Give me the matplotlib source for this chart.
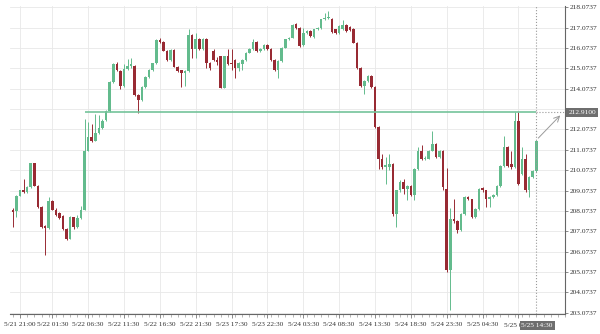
import matplotlib
matplotlib.use("Agg")
import matplotlib.pyplot as plt
import matplotlib.transforms as mtransforms
import numpy as np

# 30-min candles
opens = [
    208.13, 208.07, 208.83, 209.08, 209.00, 209.24, 210.41, 209.32, 208.26, 207.35,
    207.22, 208.58, 208.10, 207.95, 207.85, 207.20, 206.71, 207.77, 207.28, 207.73,
    208.13, 211.03, 211.72, 211.52, 211.88, 212.15, 212.55, 212.98, 214.40, 215.28,
    214.95, 214.20, 215.02, 215.20, 215.20, 213.75, 213.50, 214.18, 214.67, 215.00,
    215.32, 216.47, 216.35, 215.93, 215.49, 215.98, 215.16, 214.98, 214.85, 214.95,
    216.70, 216.00, 216.50, 216.00, 216.50, 215.31, 215.92, 215.50, 215.67, 214.12,
    215.67, 215.30, 215.50, 215.10, 215.30, 215.50, 215.84, 216.00, 216.36, 215.92,
    216.00, 216.20, 216.00, 215.50, 215.00, 215.45, 216.08, 216.49, 216.57, 217.27,
    217.06, 216.20, 216.81, 216.90, 216.60, 216.98, 217.06, 217.47, 217.55, 217.50,
    216.98, 216.81, 217.00, 217.22, 217.10, 217.00, 216.33, 215.10, 214.20, 214.45,
    214.70, 214.15, 212.20, 210.63, 210.22, 210.22, 210.38, 207.93, 209.08, 209.50,
    209.16, 209.30, 208.88, 210.14, 211.00, 210.60, 210.63, 211.03, 211.36, 210.70,
    211.03, 209.16, 205.16, 207.69, 207.60, 207.12, 207.93, 208.78, 208.64, 207.77,
    208.15, 209.20, 209.08, 208.64, 208.75, 208.85, 209.30, 210.30, 211.20, 210.38,
    210.22, 212.50, 209.90, 210.63, 209.08, 209.73, 210.05,
]
highs = [
    208.20, 208.85, 209.12, 209.65, 209.30, 210.45, 210.45, 209.35, 208.30, 207.40,
    208.75, 208.62, 208.22, 208.00, 207.90, 207.25, 207.85, 207.80, 207.90, 208.30,
    212.58, 212.45, 212.35, 212.85, 212.80, 212.60, 213.05, 214.45, 215.35, 215.40,
    215.00, 215.30, 215.55, 215.60, 215.25, 213.80, 214.22, 214.70, 215.05, 215.35,
    216.50, 216.55, 216.40, 215.98, 216.02, 216.00, 215.20, 215.00, 215.00, 217.00,
    216.75, 216.82, 216.55, 216.55, 216.55, 215.40, 216.00, 215.65, 215.70, 215.70,
    216.00, 216.00, 215.55, 215.40, 215.55, 215.88, 216.05, 216.50, 216.40, 216.08,
    216.25, 216.25, 216.05, 215.55, 215.50, 216.10, 216.52, 216.60, 217.25, 217.30,
    217.10, 217.06, 216.95, 216.95, 217.00, 217.10, 217.50, 217.80, 217.88, 217.55,
    217.02, 217.20, 217.43, 217.25, 217.15, 217.05, 216.36, 215.15, 214.50, 214.75,
    214.75, 214.20, 212.25, 210.87, 210.70, 210.87, 210.42, 209.12, 209.60, 209.65,
    209.35, 209.35, 210.20, 211.20, 211.30, 210.75, 211.08, 212.00, 211.40, 211.08,
    211.08, 210.20, 208.20, 208.67, 207.65, 207.97, 208.80, 208.82, 208.68, 208.20,
    209.20, 209.25, 209.12, 208.80, 208.90, 209.35, 210.35, 211.77, 211.25, 211.00,
    212.91, 212.91, 211.20, 210.87, 209.78, 210.10, 211.55,
]
lows = [
    207.30, 207.80, 208.80, 208.95, 208.95, 209.20, 209.30, 208.20, 207.25, 205.90,
    207.20, 208.10, 207.85, 207.70, 207.15, 206.65, 206.70, 207.20, 207.25, 207.68,
    208.10, 211.00, 211.45, 211.50, 211.85, 212.10, 212.50, 212.95, 214.35, 214.95,
    214.05, 214.15, 214.98, 215.10, 213.70, 212.88, 213.45, 214.10, 214.60, 214.95,
    215.30, 216.30, 215.90, 215.45, 215.45, 215.12, 214.88, 214.15, 214.20, 214.90,
    215.60, 215.60, 215.95, 215.95, 215.10, 215.00, 215.45, 215.25, 214.10, 214.10,
    215.22, 215.00, 214.60, 214.95, 215.00, 215.45, 215.80, 215.95, 215.88, 215.85,
    215.95, 215.95, 215.45, 214.95, 214.60, 215.40, 216.05, 216.45, 216.55, 217.00,
    216.12, 216.15, 216.78, 216.60, 216.55, 216.95, 217.00, 217.45, 217.50, 216.80,
    216.78, 216.78, 216.95, 216.85, 216.90, 216.30, 215.05, 214.15, 213.80, 214.40,
    214.10, 212.15, 210.14, 210.15, 209.40, 210.10, 207.85, 207.30, 209.00, 208.90,
    208.60, 208.82, 208.60, 210.10, 210.55, 210.55, 210.60, 211.00, 210.65, 210.65,
    209.10, 205.10, 203.20, 207.50, 207.00, 207.10, 207.90, 208.60, 207.72, 207.72,
    208.10, 209.00, 208.26, 208.26, 208.70, 208.80, 209.25, 210.25, 210.25, 210.15,
    210.18, 209.35, 209.85, 209.00, 208.75, 209.70, 210.00,
]
closes = [
    208.02, 208.83, 209.08, 208.98, 209.24, 210.41, 209.32, 208.26, 207.28, 207.22,
    208.58, 208.13, 207.88, 207.75, 207.20, 206.71, 207.77, 207.28, 207.73, 208.13,
    211.03, 211.68, 211.52, 211.88, 212.15, 212.50, 212.98, 214.40, 215.28, 215.00,
    214.20, 215.02, 215.20, 215.28, 213.75, 213.50, 214.18, 214.67, 215.00, 215.32,
    216.47, 216.35, 215.93, 215.49, 215.98, 215.16, 214.92, 214.85, 214.95, 216.70,
    216.00, 216.50, 216.00, 216.50, 215.31, 215.10, 215.48, 215.40, 214.12, 215.67,
    215.27, 215.28, 215.10, 215.35, 215.50, 215.84, 216.00, 216.36, 215.92, 216.03,
    216.20, 216.00, 215.48, 215.00, 215.45, 216.08, 216.49, 216.57, 217.22, 217.06,
    216.16, 216.81, 216.90, 216.65, 216.98, 217.06, 217.47, 217.55, 217.60, 216.85,
    216.81, 217.17, 217.22, 216.90, 216.95, 216.33, 215.10, 214.20, 214.45, 214.70,
    214.15, 212.20, 210.63, 210.22, 210.35, 210.38, 207.93, 209.08, 209.50, 209.16,
    209.30, 208.88, 210.14, 211.03, 210.60, 210.68, 211.03, 211.36, 210.70, 211.03,
    209.24, 205.16, 207.69, 207.60, 207.12, 207.93, 208.75, 208.64, 207.77, 208.15,
    209.16, 209.08, 208.64, 208.75, 208.85, 209.30, 210.30, 211.20, 210.30, 210.22,
    212.50, 209.40, 210.63, 209.08, 209.73, 210.05, 211.52,
]

tick_idx = [2, 11, 21, 31, 41, 51, 61, 71, 81, 91, 101, 111, 121, 131, 141]
tick_labels = ["5/21 21:00", "5/22 01:30", "5/22 06:30", "5/22 11:30", "5/22 16:30",
               "5/22 21:30", "5/23 17:30", "5/23 22:30", "5/24 03:30", "5/24 08:30",
               "5/24 13:30", "5/24 18:30", "5/24 23:30", "5/25 04:30", "5/25 0"]
price_ticks = [203.0737 + k for k in range(16)]

level = 212.91
level_start = 20.2
last_time_label = "5/25 14:30"

GREEN = "#63bb8d"
RED = "#982a33"
FONT = "Liberation Serif"
FS = 5.35

plt.rcParams['font.family'] = FONT

fig = plt.figure(figsize=(6, 3.34), dpi=100)
ax = fig.add_axes([0.0167, 0.06, 0.925, 0.922])

n = len(opens)
x = np.arange(n)
o = np.array(opens)
h = np.array(highs)
l = np.array(lows)
c = np.array(closes)
up = c >= o
colors = np.where(up, GREEN, RED)

ax.vlines(x, l, h, colors=colors, linewidth=0.7, zorder=3)
body_h = np.maximum(np.abs(c - o), 0.04)
ax.bar(x, body_h, bottom=np.minimum(o, c), width=0.72, color=colors, zorder=4)

last = n - 1
# support/resistance level
ax.hlines(level, level_start, last, colors="#74c39b", linewidth=1.2, zorder=5)
ax.hlines(level, last, 154.5, colors="#999999", linestyles=":", linewidth=0.8, zorder=5)
ax.axvline(last, color="#999999", linestyle=":", linewidth=0.8, zorder=5)
ax.annotate("", xy=(153.2, level - 0.05), xytext=(last, h[last]),
            arrowprops=dict(arrowstyle="->", color="#9a9a9a", lw=0.7), zorder=6)

ax.set_xlim(-0.78, 154.0)
ax.set_ylim(203.02, 218.13)

ax.set_xticks(tick_idx)
ax.set_xticklabels(tick_labels[:-1] + [""])
ax.set_xticks(np.arange(0, 155, 2), minor=True)
ax.set_yticks(price_ticks)
ax.set_yticklabels(["" if abs(v - 213.0737) < 1e-6 else f"{v:.4f}" for v in price_ticks])

ax.yaxis.tick_right()
ax.grid(True, color="#e8e8e8", linewidth=0.6, zorder=0)
ax.set_axisbelow(True)
ax.tick_params(axis="x", which="major", length=3, width=0.6, color="#777777",
               labelsize=FS, labelcolor="#333333", pad=2.5)
ax.tick_params(axis="x", which="minor", length=1.8, width=0.5, color="#999999")
ax.tick_params(axis="y", length=2, width=0.6, color="#777777",
               labelsize=FS, labelcolor="#333333", pad=1.5)

for side in ["top", "left"]:
    ax.spines[side].set_visible(False)
for side in ["bottom", "right"]:
    ax.spines[side].set_color("#666666")
    ax.spines[side].set_linewidth(0.8)

trans_x = mtransforms.blended_transform_factory(ax.transData, ax.transAxes)
# last regular tick label is half hidden behind the crosshair box
ax.text(tick_idx[-1] - 3.9, -0.037, tick_labels[-1], transform=trans_x,
        ha="left", va="center", fontsize=FS, color="#333333", clip_on=False)

# highlighted crosshair labels
ax.text(last + 0.2, -0.037, last_time_label, transform=trans_x, ha="center", va="center",
        fontsize=FS, color="white", zorder=10, clip_on=False,
        bbox=dict(boxstyle="square,pad=0.25", fc="#6e6e6e", ec="none"))
trans_y = mtransforms.blended_transform_factory(ax.transAxes, ax.transData)
ax.text(1.006, level, f"{level:.4f}", transform=trans_y, ha="left", va="center",
        fontsize=FS, color="white", zorder=10, clip_on=False,
        bbox=dict(boxstyle="square,pad=0.3", fc="#6e6e6e", ec="none"))

fig.savefig("out.png", dpi=100)
